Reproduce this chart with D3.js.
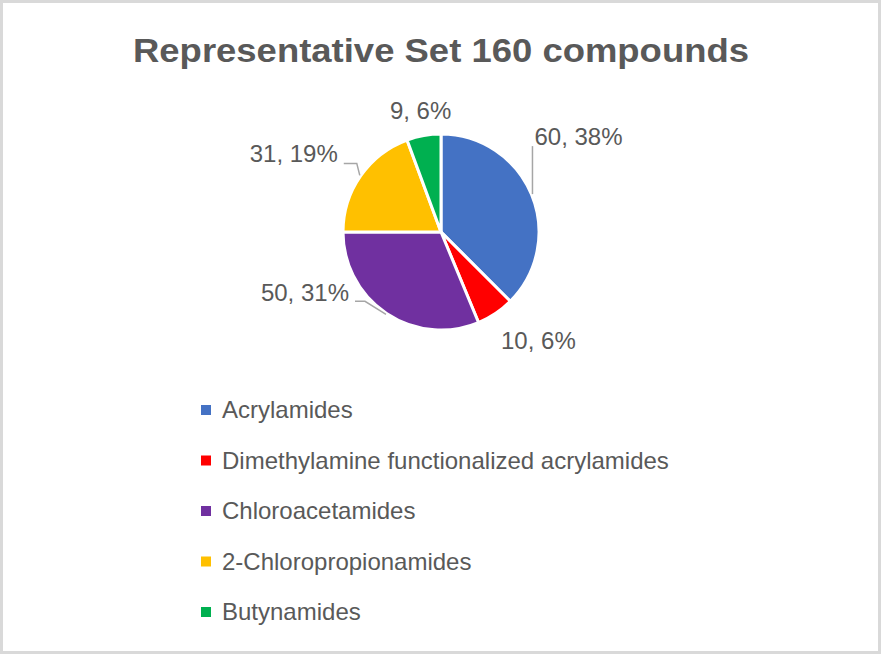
<!DOCTYPE html>
<html>
<head>
<meta charset="utf-8">
<script src="https://cdn.jsdelivr.net/npm/d3@7"></script>
<style>
  html, body { margin: 0; padding: 0; background: #fff; }
  svg { display: block; }
</style>
</head>
<body>
<svg id="chart"></svg>
<script>
const categories = [
  "Acrylamides",
  "Dimethylamine functionalized acrylamides",
  "Chloroacetamides",
  "2-Chloropropionamides",
  "Butynamides",
];
const counts = [60, 10, 50, 31, 9];
const colors = ["#4472C4", "#FF0000", "#7030A0", "#FFC000", "#00B050"];
const title = "Representative Set 160 compounds";

const width = 881;
const height = 654;
const cx = 441;
const cy = 232;
const radius = 98;
const textColor = "#595959";
const font = "'Liberation Sans', Arial, sans-serif";

const svg = d3.select("#chart").attr("width", width).attr("height", height);

// frame
svg.append("rect")
  .attr("x", 1.5).attr("y", 1.5)
  .attr("width", width - 3).attr("height", height - 3)
  .attr("fill", "#fff")
  .attr("stroke", "#d9d9d9")
  .attr("stroke-width", 3);

// title
svg.append("text")
  .attr("x", cx)
  .attr("y", 62)
  .attr("text-anchor", "middle")
  .attr("textLength", 616)
  .attr("lengthAdjust", "spacingAndGlyphs")
  .style("font-family", font)
  .style("font-weight", "bold")
  .style("font-size", "33px")
  .attr("fill", textColor)
  .text(title);

const total = d3.sum(counts);
const data = categories.map((c, i) => ({ name: c, value: counts[i], color: colors[i] }));

const pie = d3.pie().sort(null).value((d) => d.value);
const arcs = pie(data);

const arc = d3.arc().innerRadius(0).outerRadius(radius);
const edge = d3.arc().innerRadius(radius + 1).outerRadius(radius + 1);

const g = svg.append("g").attr("transform", `translate(${cx},${cy})`);

g.selectAll("path.slice")
  .data(arcs)
  .enter()
  .append("path")
  .attr("class", "slice")
  .attr("d", arc)
  .attr("fill", (d) => d.data.color)
  .attr("stroke", "#fff")
  .attr("stroke-width", 3);

// label layout relative to the point on the rim at the slice's mid angle
const labelLayout = [
  { dx: 2, dy: -49, anchor: "start", leader: [[0, -48]] },
  { dx: 5, dy: 35, anchor: "start", leader: null },
  { dx: -37, dy: -13, anchor: "end", leader: [[-21, -13], [-31, -13]] },
  { dx: -22, dy: -13, anchor: "end", leader: [[-3, -12], [-16, -12]] },
  { dx: -3, dy: -16, anchor: "middle", leader: null },
];

arcs.forEach((d, i) => {
  const [px, py] = edge.centroid(d);
  const lay = labelLayout[i];
  if (lay.leader) {
    const pts = [[px, py]].concat(lay.leader.map(([x, y]) => [px + x, py + y]));
    g.append("path")
      .attr("d", d3.line()(pts))
      .attr("fill", "none")
      .attr("stroke", "#a6a6a6")
      .attr("stroke-width", 1.5);
  }
  const pct = Math.round((d.data.value / total) * 100);
  g.append("text")
    .attr("x", px + lay.dx)
    .attr("y", py + lay.dy)
    .attr("text-anchor", lay.anchor)
    .style("font-family", font)
    .style("font-size", "24px")
    .attr("fill", textColor)
    .text(`${d.data.value}, ${pct}%`);
});

// legend
const legendY = d3.scalePoint().domain(categories).range([410, 612]);

const legend = svg.append("g");
const item = legend.selectAll("g.item")
  .data(data)
  .enter()
  .append("g")
  .attr("class", "item")
  .attr("transform", (d) => `translate(201,${legendY(d.name)})`);

item.append("rect")
  .attr("x", 0)
  .attr("y", -5)
  .attr("width", 10)
  .attr("height", 10)
  .attr("fill", (d) => d.color);

item.append("text")
  .attr("x", 21)
  .attr("y", 8)
  .style("font-family", font)
  .style("font-size", "24px")
  .attr("fill", textColor)
  .text((d) => d.name);
</script>
</body>
</html>
